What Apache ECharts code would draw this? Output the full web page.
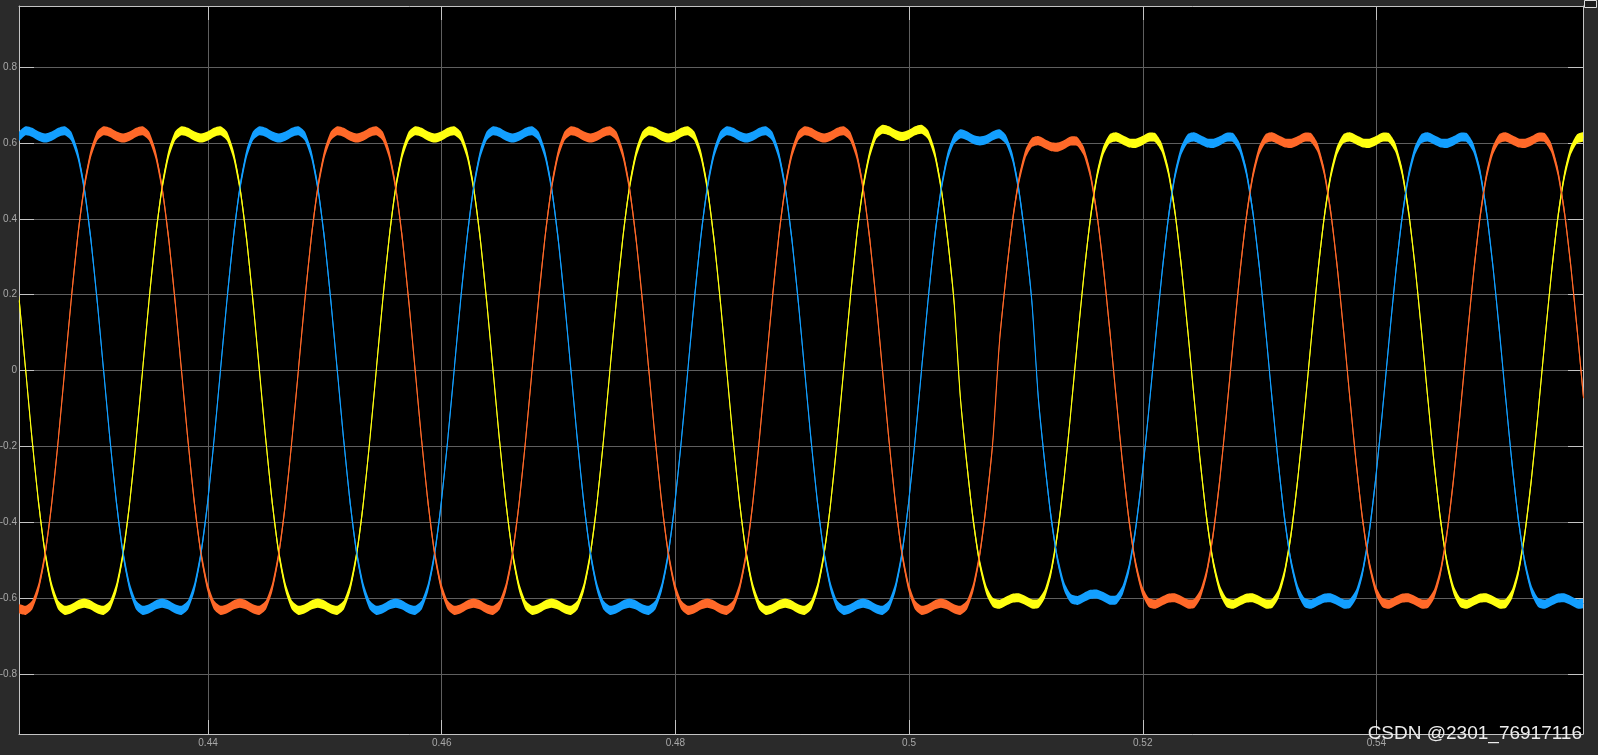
<!DOCTYPE html>
<html>
<head>
<meta charset="utf-8">
<script src="https://cdn.jsdelivr.net/npm/echarts@6/dist/echarts.min.js"></script>
<style>
html,body{margin:0;padding:0;background:#2a2a2a;}
#chart{width:1598px;height:755px;}
</style>
</head>
<body>
<div id="chart"></div>
<script>
// ---- axis ticks ----
const X_TICKS = [0.44, 0.46, 0.48, 0.50, 0.52, 0.54];
const Y_TICKS = [-0.8, -0.6, -0.4, -0.2, 0, 0.2, 0.4, 0.6, 0.8];
const X_MIN = 0.42382, X_MAX = 0.55768;
const Y_MIN = -0.958, Y_MAX = 0.961;

// ---- scope sampling clock (s) ----
const SAMPLE_START = 0.423841;
const SAMPLE_STEP = 0.02 / 36;
// half thickness of the switching ripple band
const RIPPLE = 0.012;

// ---- signal 1 (yellow) ----
const yellow = [
 0.185, 0, -0.185, -0.351, -0.482, -0.570, -0.618, -0.632, -0.628, -0.618, -0.613, -0.618, -0.628, -0.632, -0.618, -0.570, -0.482, -0.351, -0.185, 0, 0.185, 0.351, 0.482, 0.570, 0.618, 0.632, 0.628, 0.618, 0.613, 0.618, 0.628, 0.632, 0.618, 0.570, 0.482, 0.351,
 0.185, 0, -0.185, -0.351, -0.482, -0.570, -0.618, -0.632, -0.628, -0.618, -0.613, -0.618, -0.628, -0.632, -0.618, -0.570, -0.482, -0.351, -0.185, 0, 0.185, 0.351, 0.482, 0.570, 0.618, 0.632, 0.628, 0.618, 0.613, 0.618, 0.628, 0.632, 0.618, 0.570, 0.482, 0.351,
 0.185, 0, -0.185, -0.351, -0.482, -0.570, -0.618, -0.632, -0.628, -0.618, -0.613, -0.618, -0.628, -0.632, -0.618, -0.570, -0.482, -0.351, -0.185, 0, 0.185, 0.351, 0.482, 0.570, 0.618, 0.632, 0.628, 0.618, 0.613, 0.618, 0.628, 0.632, 0.618, 0.570, 0.482, 0.351,
 0.185, 0, -0.185, -0.351, -0.482, -0.570, -0.618, -0.632, -0.628, -0.618, -0.613, -0.618, -0.628, -0.632, -0.618, -0.570, -0.482, -0.351, -0.185, 0, 0.185, 0.351, 0.482, 0.570, 0.622, 0.636, 0.632, 0.622, 0.617, 0.622, 0.632, 0.636, 0.622, 0.574, 0.484, 0.351,
 0.185,
 -0.073, -0.248, -0.398, -0.510, -0.579, -0.611, -0.616, -0.608, -0.600, -0.599, -0.606, -0.615, -0.614, -0.588, -0.527, -0.424, -0.281, -0.110, 0.073, 0.248, 0.398, 0.510, 0.579, 0.611, 0.616, 0.608, 0.600, 0.599, 0.606, 0.615, 0.614, 0.588, 0.527, 0.424, 0.281, 0.110,
 -0.073, -0.248, -0.398, -0.510, -0.579, -0.611, -0.616, -0.608, -0.600, -0.599, -0.606, -0.615, -0.614, -0.588, -0.527, -0.424, -0.281, -0.110, 0.073, 0.248, 0.398, 0.510, 0.579, 0.611, 0.616, 0.608, 0.600, 0.599, 0.606, 0.615, 0.614, 0.588, 0.527, 0.424, 0.281, 0.110,
 -0.073, -0.248, -0.398, -0.510, -0.579, -0.611, -0.616, -0.608, -0.600, -0.599, -0.606, -0.615, -0.614, -0.588, -0.527, -0.424, -0.281, -0.110, 0.073, 0.248, 0.398, 0.510, 0.579, 0.611, 0.616
];

// ---- signal 2 (blue) ----
const blue = [
 0.618, 0.632, 0.628, 0.618, 0.613, 0.618, 0.628, 0.632, 0.618, 0.570, 0.482, 0.351, 0.185, 0, -0.185, -0.351, -0.482, -0.570, -0.618, -0.632, -0.628, -0.618, -0.613, -0.618, -0.628, -0.632, -0.618, -0.570, -0.482, -0.351, -0.185, 0, 0.185, 0.351, 0.482, 0.570,
 0.618, 0.632, 0.628, 0.618, 0.613, 0.618, 0.628, 0.632, 0.618, 0.570, 0.482, 0.351, 0.185, 0, -0.185, -0.351, -0.482, -0.570, -0.618, -0.632, -0.628, -0.618, -0.613, -0.618, -0.628, -0.632, -0.618, -0.570, -0.482, -0.351, -0.185, 0, 0.185, 0.351, 0.482, 0.570,
 0.618, 0.632, 0.628, 0.618, 0.613, 0.618, 0.628, 0.632, 0.618, 0.570, 0.482, 0.351, 0.185, 0, -0.185, -0.351, -0.482, -0.570, -0.618, -0.632, -0.628, -0.618, -0.613, -0.618, -0.628, -0.632, -0.618, -0.570, -0.482, -0.351, -0.185, 0, 0.185, 0.351, 0.482, 0.570,
 0.618, 0.632, 0.628, 0.618, 0.613, 0.618, 0.628, 0.632, 0.618, 0.570, 0.482, 0.351, 0.185, 0, -0.185, -0.351, -0.482, -0.570, -0.618, -0.632, -0.628, -0.618, -0.613, -0.618, -0.628, -0.632, -0.618, -0.570, -0.482, -0.351, -0.185, 0, 0.183, 0.346, 0.475, 0.563,
 0.609, 0.624, 0.619, 0.609, 0.605, 0.609, 0.619, 0.624, 0.609, 0.563, 0.475, 0.346, 0.183,
 -0.072, -0.244, -0.391, -0.501, -0.570, -0.601, -0.606, -0.598, -0.590, -0.589, -0.596, -0.605, -0.604, -0.578, -0.518, -0.416, -0.276, -0.108,
 0.073, 0.248, 0.398, 0.510, 0.579, 0.611, 0.616, 0.608, 0.600, 0.599, 0.606, 0.615, 0.614, 0.588, 0.527, 0.424, 0.281, 0.110, -0.073, -0.248, -0.398, -0.510, -0.579, -0.611, -0.616, -0.608, -0.600, -0.599, -0.606, -0.615, -0.614, -0.588, -0.527, -0.424, -0.281, -0.110,
 0.073, 0.248, 0.398, 0.510, 0.579, 0.611, 0.616, 0.608, 0.600, 0.599, 0.606, 0.615, 0.614, 0.588, 0.527, 0.424, 0.281, 0.110, -0.073, -0.248, -0.398, -0.510, -0.579, -0.611, -0.616, -0.608, -0.600, -0.599, -0.606, -0.615, -0.614
];

// ---- signal 3 (orange) ----
const orange = [
 -0.628, -0.632, -0.618, -0.570, -0.482, -0.351, -0.185, 0, 0.185, 0.351, 0.482, 0.570, 0.618, 0.632, 0.628, 0.618, 0.613, 0.618, 0.628, 0.632, 0.618, 0.570, 0.482, 0.351, 0.185, 0, -0.185, -0.351, -0.482, -0.570, -0.618, -0.632, -0.628, -0.618, -0.613, -0.618,
 -0.628, -0.632, -0.618, -0.570, -0.482, -0.351, -0.185, 0, 0.185, 0.351, 0.482, 0.570, 0.618, 0.632, 0.628, 0.618, 0.613, 0.618, 0.628, 0.632, 0.618, 0.570, 0.482, 0.351, 0.185, 0, -0.185, -0.351, -0.482, -0.570, -0.618, -0.632, -0.628, -0.618, -0.613, -0.618,
 -0.628, -0.632, -0.618, -0.570, -0.482, -0.351, -0.185, 0, 0.185, 0.351, 0.482, 0.570, 0.618, 0.632, 0.628, 0.618, 0.613, 0.618, 0.628, 0.632, 0.618, 0.570, 0.482, 0.351, 0.185, 0, -0.185, -0.351, -0.482, -0.570, -0.618, -0.632, -0.628, -0.618, -0.613, -0.618,
 -0.628, -0.632, -0.618, -0.570, -0.482, -0.351, -0.185, 0, 0.185, 0.351, 0.482, 0.570, 0.618, 0.632, 0.628, 0.618, 0.613, 0.618, 0.628, 0.632, 0.618, 0.570, 0.482, 0.351, 0.185, 0, -0.185, -0.351, -0.482, -0.570, -0.618, -0.632, -0.628, -0.618, -0.613, -0.618,
 -0.628, -0.632, -0.618, -0.570, -0.482, -0.351, -0.185,
 0.072, 0.244, 0.391, 0.501, 0.570, 0.601, 0.606, 0.598, 0.590, 0.589, 0.596, 0.605, 0.604, 0.578, 0.518, 0.416, 0.276, 0.108,
 -0.073, -0.248, -0.398, -0.510, -0.579, -0.611, -0.616, -0.608, -0.600, -0.599, -0.606, -0.615, -0.614, -0.588, -0.527, -0.424, -0.281, -0.110, 0.073, 0.248, 0.398, 0.510, 0.579, 0.611, 0.616, 0.608, 0.600, 0.599, 0.606, 0.615, 0.614, 0.588, 0.527, 0.424, 0.281, 0.110,
 -0.073, -0.248, -0.398, -0.510, -0.579, -0.611, -0.616, -0.608, -0.600, -0.599, -0.606, -0.615, -0.614, -0.588, -0.527, -0.424, -0.281, -0.110, 0.073, 0.248, 0.398, 0.510, 0.579, 0.611, 0.616, 0.608, 0.600, 0.599, 0.606, 0.615, 0.614, 0.588, 0.527, 0.424, 0.281, 0.110,
 -0.073
];

const SIGNALS = [
  { name: 'Signal 1', values: yellow, color: '#ffff11' },
  { name: 'Signal 2', values: blue, color: '#139fff' },
  { name: 'Signal 3', values: orange, color: '#ff6929' }
];

const TIME = yellow.map((_, i) => SAMPLE_START + i * SAMPLE_STEP);

function pairs(vals) { return vals.map((v, i) => [TIME[i], v]); }

function bandSeries(sig) {
  const vals = sig.values;
  return {
    type: 'custom',
    name: sig.name,
    clip: true,
    silent: true,
    data: [[TIME[0], vals[0]]],
    encode: { x: 0, y: 1 },
    renderItem: function (params, api) {
      const pts = [];
      for (let i = 0; i < vals.length; i++) pts.push(api.coord([TIME[i], vals[i] + RIPPLE]));
      for (let i = vals.length - 1; i >= 0; i--) pts.push(api.coord([TIME[i], vals[i] - RIPPLE]));
      return { type: 'polygon', shape: { points: pts, smooth: 0.2 }, style: { fill: sig.color } };
    }
  };
}

function lineSeries(sig) {
  return {
    type: 'line',
    name: sig.name,
    data: pairs(sig.values),
    symbol: 'none',
    smooth: 0.25,
    clip: true,
    silent: true,
    lineStyle: { color: sig.color, width: 1.1 }
  };
}

const series = [];
SIGNALS.forEach(s => { series.push(bandSeries(s)); series.push(lineSeries(s)); });

const AX_COLOR = '#c4c4c4';
const GRID_COLOR = '#5f5f5f';
const LABEL = { color: '#a8a8a8', fontSize: 10, fontFamily: '"Liberation Sans", Arial, sans-serif' };

const option = {
  animation: false,
  backgroundColor: '#2a2a2a',
  grid: {
    left: 19, right: 15, top: 6, bottom: 21,
    containLabel: false, outerBoundsMode: 'none',
    show: true, backgroundColor: '#000000', borderWidth: 0
  },
  xAxis: [
    {
      type: 'value', position: 'bottom', min: X_MIN, max: X_MAX,
      axisLine: { show: true, onZero: false, lineStyle: { color: AX_COLOR, width: 1 } },
      axisTick: { show: true, inside: true, length: 14, customValues: X_TICKS, lineStyle: { color: AX_COLOR } },
      axisLabel: Object.assign({ show: true, customValues: X_TICKS, margin: 4 }, LABEL),
      splitLine: { show: true, lineStyle: { color: GRID_COLOR, width: 1 } }
    },
    {
      type: 'value', position: 'top', min: X_MIN, max: X_MAX,
      axisLine: { show: true, onZero: false, lineStyle: { color: AX_COLOR, width: 1 } },
      axisTick: { show: true, inside: true, length: 14, customValues: X_TICKS, lineStyle: { color: AX_COLOR } },
      axisLabel: { show: false, customValues: X_TICKS },
      splitLine: { show: false }
    }
  ],
  yAxis: [
    {
      type: 'value', position: 'left', min: Y_MIN, max: Y_MAX,
      axisLine: { show: true, onZero: false, lineStyle: { color: AX_COLOR, width: 1 } },
      axisTick: { show: true, inside: true, length: 15, customValues: Y_TICKS, lineStyle: { color: AX_COLOR } },
      axisLabel: Object.assign({ show: true, customValues: Y_TICKS, margin: 2 }, LABEL),
      splitLine: { show: true, lineStyle: { color: GRID_COLOR, width: 1 } }
    },
    {
      type: 'value', position: 'right', min: Y_MIN, max: Y_MAX,
      axisLine: { show: true, onZero: false, lineStyle: { color: AX_COLOR, width: 1 } },
      axisTick: { show: true, inside: true, length: 15, customValues: Y_TICKS, lineStyle: { color: AX_COLOR } },
      axisLabel: { show: false, customValues: Y_TICKS },
      splitLine: { show: false }
    }
  ],
  series: series,
  graphic: [
    {
      type: 'text', right: 16, top: 724, z: 100,
      style: {
        text: 'CSDN @2301_76917116',
        fill: '#ececec',
        font: '19px "Liberation Sans", Arial, sans-serif',
        shadowColor: 'rgba(0,0,0,0.9)', shadowBlur: 3, shadowOffsetX: 1, shadowOffsetY: 1
      }
    },
    {
      type: 'rect', z: 100,
      shape: { x: 1584.5, y: 0.5, width: 12, height: 7 },
      style: { fill: '#1c1c1c', stroke: '#dddddd', lineWidth: 1 }
    }
  ]
};

const chart = echarts.init(document.getElementById('chart'));
chart.setOption(option);
</script>
</body>
</html>
